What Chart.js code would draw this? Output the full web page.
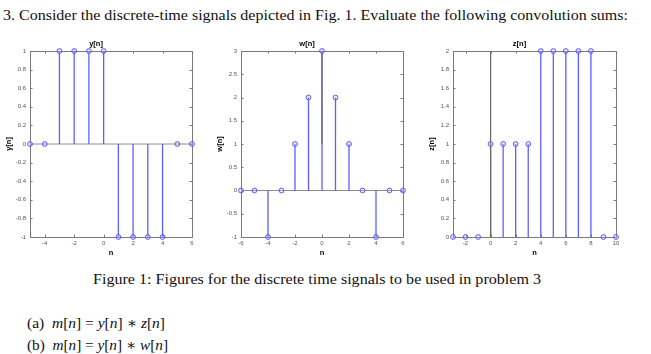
<!DOCTYPE html>
<html><head><meta charset="utf-8">
<script src="https://cdn.jsdelivr.net/npm/chart.js@4"></script>
<style>
body{margin:0;background:#fff;width:651px;height:354px;overflow:hidden;position:relative;font-family:"Liberation Serif","DejaVu Serif",serif;}
.t{position:absolute;white-space:nowrap;color:#111;transform-origin:0 50%;line-height:1;}
.c{position:absolute;}
</style></head><body>
<div class="t" id="head" data-w="625" style="left:3px;top:8px;font-size:15px">3. Consider the discrete-time signals depicted in Fig. 1. Evaluate the following convolution sums:</div>
<div class="c" style="left:0px;top:36px;width:200px;height:222px"><canvas id="cy"></canvas></div>
<div class="c" style="left:211px;top:36px;width:200px;height:222px"><canvas id="cw"></canvas></div>
<div class="c" style="left:423px;top:36px;width:201px;height:222px"><canvas id="cz"></canvas></div>
<div class="t" id="cap" data-w="448" style="left:93px;top:272px;font-size:15px">Figure 1: Figures for the discrete time signals to be used in problem 3</div>
<div class="t" id="la" data-w="138" style="left:27px;top:316px;font-size:15px">(a)&nbsp; <i>m</i>[<i>n</i>] = <i>y</i>[<i>n</i>] ∗ <i>z</i>[<i>n</i>]</div>
<div class="t" id="lb" data-w="141" style="left:27px;top:338px;font-size:15px">(b)&nbsp; <i>m</i>[<i>n</i>] = <i>y</i>[<i>n</i>] ∗ <i>w</i>[<i>n</i>]</div>
<script>
// ---- data ----
const yN    = [-5,-4,-3,-2,-1,0,1,2,3,4,5,6];
const yVals = [0,0,1,1,1,1,-1,-1,-1,-1,0,0];
const wN    = [-6,-5,-4,-3,-2,-1,0,1,2,3,4,5,6];
const wVals = [0,0,-1,0,1,2,3,2,1,0,-1,0,0];
const zN    = [-3,-2,-1,0,1,2,3,4,5,6,7,8,9,10];
const zVals = [0,0,0,1,1,1,1,2,2,2,2,2,0,0];
const yXTicks = [-4,-2,0,2,4,6];
const yYTicks = [-1,-0.8,-0.6,-0.4,-0.2,0,0.2,0.4,0.6,0.8,1];
const wXTicks = [-6,-4,-2,0,2,4,6];
const wYTicks = [-1,-0.5,0,0.5,1,1.5,2,2.5,3];
const zXTicks = [-2,0,2,4,6,8,10];
const zYTicks = [0,0.2,0.4,0.6,0.8,1,1.2,1.4,1.6,1.8,2];
const wGrayLine = [[0,1],[0,3]];
const zGrayLine = [[0,0],[0,2]];

const STEM='#5f5fff', MARK='#5a5aff', FRAME='#7a7a7a', BASE='#8c8c96';

const framePlugin = {
  id:'frame',
  beforeDatasetsDraw(chart){
    const {ctx, chartArea:a, scales:{x,y}} = chart;
    ctx.save();
    ctx.strokeStyle=FRAME; ctx.lineWidth=1;
    ctx.strokeRect(Math.round(a.left)+0.5, Math.round(a.top)+0.5, Math.round(a.right-a.left), Math.round(a.bottom-a.top));
    const L=2.5;
    ctx.beginPath();
    x.ticks.forEach(t=>{const px=Math.round(x.getPixelForValue(t.value))+0.5;
      ctx.moveTo(px,a.bottom); ctx.lineTo(px,a.bottom-L);
      ctx.moveTo(px,a.top); ctx.lineTo(px,a.top+L);});
    y.ticks.forEach(t=>{const py=Math.round(y.getPixelForValue(t.value))+0.5;
      ctx.moveTo(a.left,py); ctx.lineTo(a.left+L,py);
      ctx.moveTo(a.right,py); ctx.lineTo(a.right-L,py);});
    ctx.stroke();
    ctx.restore();
  }
};

function fmt(v){ return String(Math.round(v*10)/10); }

function makeChart(id, title, ylab, ns, vals, xr, yr, xt, yt, baseline, gray){
  const stems=[];
  ns.forEach((n,i)=>{ stems.push({x:n,y:0},{x:n,y:vals[i]},{x:n,y:null}); });
  const pts = ns.map((n,i)=>({x:n,y:vals[i]}));
  const ds=[];
  if(baseline) ds.push({type:'line',data:[{x:xr[0],y:0},{x:xr[1],y:0}],borderColor:BASE,borderWidth:1,pointRadius:0,clip:false,order:5});
  ds.push({type:'line',data:stems,borderColor:STEM,borderWidth:1.3,pointRadius:0,spanGaps:false,clip:false,order:4});
  if(gray) ds.push({type:'line',data:gray.map(p=>({x:p[0],y:p[1]})),borderColor:'#6a6a6a',borderWidth:1.2,pointRadius:0,clip:false,order:3});
  ds.push({type:'scatter',data:pts,pointStyle:'circle',pointRadius:2.4,borderWidth:1,borderColor:MARK,backgroundColor:'rgba(190,190,255,0.35)',clip:false,order:1});
  new Chart(document.getElementById(id),{
    type:'scatter',
    data:{datasets:ds},
    plugins:[framePlugin],
    options:{
      responsive:true,maintainAspectRatio:false,animation:false,
      layout:{padding:{top:3,right:8,bottom:0,left:0}},
      plugins:{legend:{display:false},tooltip:{enabled:false},
        title:{display:true,text:title,color:'#000',font:{family:'Liberation Sans',size:7.5,weight:'bold'},padding:{top:0,bottom:3}}},
      scales:{
        x:{type:'linear',min:xr[0],max:xr[1],
          afterBuildTicks:s=>{s.ticks=xt.map(v=>({value:v}));},
          afterFit:s=>{s.height=21;},
          grid:{display:false,drawTicks:false},border:{display:false},
          ticks:{padding:3,color:'#555',font:{family:'Liberation Sans',size:6},callback:fmt,maxRotation:0,autoSkip:false},
          title:{display:true,text:'n',color:'#000',font:{family:'Liberation Sans',size:7.5,weight:'bold'},padding:{top:0,bottom:1}}},
        y:{type:'linear',min:yr[0],max:yr[1],
          afterBuildTicks:s=>{s.ticks=yt.map(v=>({value:v}));},
          afterFit:s=>{s.width=30;},
          grid:{display:false,drawTicks:false},border:{display:false},
          ticks:{padding:4,color:'#555',font:{family:'Liberation Sans',size:6},callback:fmt,autoSkip:false},
          title:{display:true,text:ylab,color:'#000',font:{family:'Liberation Sans',size:7.5,weight:'bold'},padding:{top:4,bottom:0}}}
      }
    }
  });
}

makeChart('cy','y[n]','y[n]',yN,yVals,[-5,6],[-1,1],yXTicks,yYTicks,true,null);
makeChart('cw','w[n]','w[n]',wN,wVals,[-6,6],[-1,3],wXTicks,wYTicks,true,wGrayLine);
makeChart('cz','z[n]','z[n]',zN,zVals,[-3,10],[0,2],zXTicks,zYTicks,false,zGrayLine);

function fit(){
  document.querySelectorAll('.t').forEach(el=>{
    el.style.transform='none';
    const w=el.getBoundingClientRect().width;
    const tw=+el.dataset.w;
    el.style.transform='scaleX('+(tw/w)+')';
  });
}
fit();
if(document.fonts&&document.fonts.ready) document.fonts.ready.then(fit);
</script>
</body></html>
